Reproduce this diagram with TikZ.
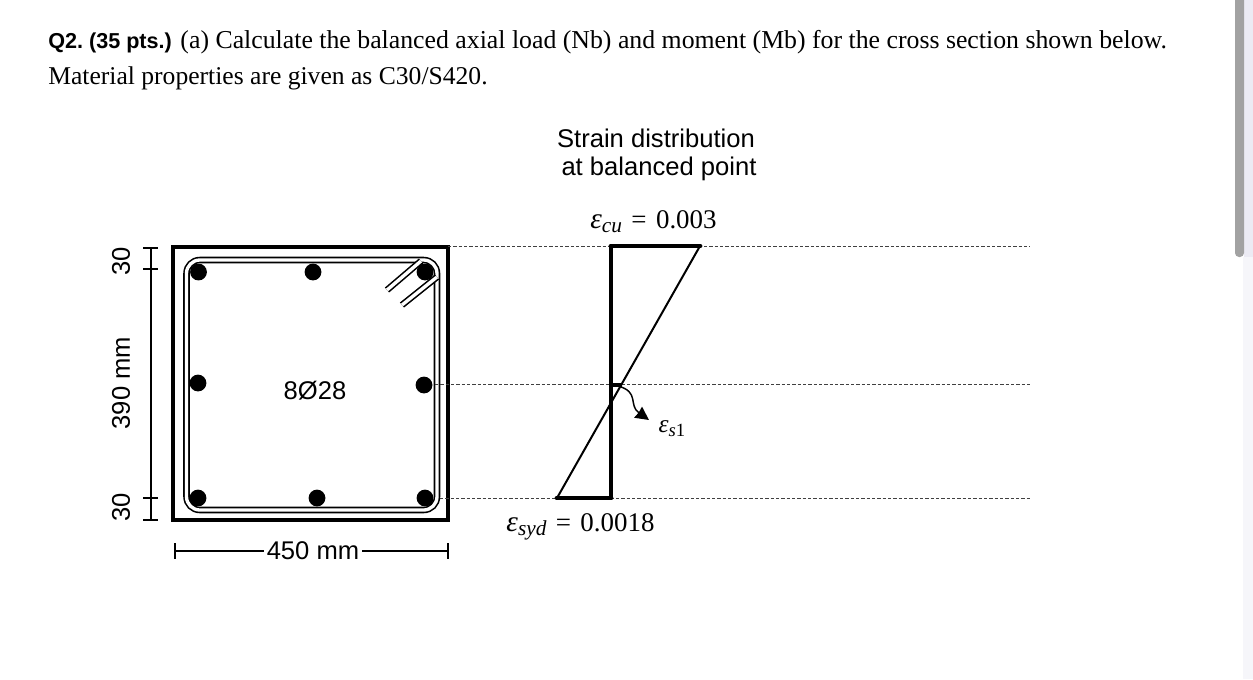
\RequirePackage{fix-cm}
\documentclass[tikz,border=0pt]{standalone}
\usepackage{amsmath}
\usepackage{fontspec}
\setmainfont{Liberation Serif}
\setsansfont{Liberation Sans}
\usepackage{tikz}
\usetikzlibrary{arrows.meta}
\definecolor{scrollgray}{HTML}{A2A2A2}
\definecolor{scrolllav}{HTML}{ECEBF4}
\newcommand{\strainsym}[3]{{\fontsize{#2}{#2}\selectfont\textit{ε}}\raisebox{-3pt}{\fontsize{#3}{#3}\selectfont\itshape #1}}
\tikzset{
    sanslabel/.style={inner sep=1pt, font=\sffamily\fontsize{19.2}{22}\selectfont},
    seriflabel/.style={inner sep=0pt, anchor=base west, font=\rmfamily\fontsize{19.2}{22}\selectfont},
    eqlabel/.style={inner sep=0pt, font=\rmfamily\fontsize{20.2}{22}\selectfont},
    dimline/.style={line width=0.8pt},
    guideline/.style={line width=0.6pt, black!75, dash pattern=on 2.4pt off 1.6pt},
    rebar/.style={line width=1.2pt, double, double distance=2.5pt},
    thickline/.style={line width=3.6pt},
    barfill/.style={circle, fill=black, inner sep=0pt, minimum size=12.6pt}
}
\begin{document}
\begin{tikzpicture}[x=0.75pt, y=-0.75pt]
        \useasboundingbox (0, 0) rectangle (1253, 679);
        % Scroll bar
        \fill [scrolllav] (1244, 0) rectangle (1253, 257);
        \fill [scrolllav!45] (1243, 257) rectangle (1253, 679);
        \fill [scrollgray, rounded corners=3pt] (1235, -10) rectangle (1244, 257);
        % Question
        \node [seriflabel] (line1) at (48, 48) {\sffamily\bfseries\fontsize{16.2}{22}\selectfont Q2.\ (35 pts.)\rmfamily\mdseries\fontsize{19.34}{22}\selectfont{} (a) Calculate the balanced axial load (Nb) and moment (Mb) for the cross section shown below.};
        \node [seriflabel] (line2) at (48, 84) {Material properties are given as C30/S420.};
        % Heading
        \node [sanslabel] (head1) at (656, 138) {Strain distribution};
        \node [sanslabel] (head2) at (659, 169) {at balanced point};
        % Section
        \draw [line width=3.4pt] (173, 247) rectangle (448, 520);
        \draw [rebar, rounded corners=10pt] (186.5, 260) rectangle (437, 510);
        % Hooks
        \draw [rebar] (421, 261) -- (387, 290);
        \draw [rebar] (437, 277) -- (402, 305);
        % Bars
        \node [barfill] (barNW) at (198.5, 272) {};
        \node [barfill] (barN) at (313, 272) {};
        \node [barfill] (barNE) at (425, 272) {};
        \node [barfill] (barW) at (198, 383) {};
        \node [barfill] (barE) at (424, 385) {};
        \node [barfill] (barSW) at (198, 498) {};
        \node [barfill] (barS) at (317, 498) {};
        \node [barfill] (barSE) at (425, 498) {};
        \node [sanslabel] (barlabel) at (315, 391) {8\O{}28};
        % Left dimension
        \coordinate (dimA) at (151, 248);
        \coordinate (dimB) at (151, 269);
        \coordinate (dimC) at (151, 498);
        \coordinate (dimD) at (151, 520);
        \draw [dimline] (dimA) -- (dimD);
        \draw [dimline] (143, 248) -- (158, 248);
        \draw [dimline] (143, 269) -- (158, 269);
        \draw [dimline] (143, 498) -- (158, 498);
        \draw [dimline] (143, 520) -- (158, 520);
        \node [sanslabel, rotate=90] (dimtop) at (121, 261) {30};
        \node [sanslabel, rotate=90] (dimmid) at (121, 383) {390 mm};
        \node [sanslabel, rotate=90] (dimbot) at (121, 507) {30};
        % Bottom dimension
        \coordinate (widthL) at (175, 551);
        \coordinate (widthR) at (448, 551);
        \node [sanslabel, inner sep=2pt] (widthlabel) at (313, 551) {450 mm};
        \draw [dimline] (widthL) -- (widthlabel);
        \draw [dimline] (widthlabel) -- (widthR);
        \draw [dimline] (175, 543) -- (175, 559);
        \draw [dimline] (448, 543) -- (448, 559);
        % Strain diagram
        \coordinate (strainT) at (611, 246);
        \coordinate (strainB) at (611, 498);
        \coordinate (strainM) at (611, 385);
        \coordinate (strainR) at (700, 246);
        \coordinate (strainL) at (557, 498);
        \coordinate (strainS) at (622, 385);
        \draw [guideline] (448, 246.5) -- (1030, 246.5);
        \draw [guideline] (435, 384.5) -- (1030, 384.5);
        \draw [guideline] (440, 498.5) -- (1030, 498.5);
        \draw [line width=1.5pt] (strainR) -- (strainL);
        \draw [thickline, line cap=round] (strainR) -- (strainT);
        \draw [thickline] (strainT) -- (strainB);
        \draw [thickline, line cap=round] (strainB) -- (strainL);
        \draw [thickline] (strainM) -- (strainS);
        % Labels
        \node [eqlabel] (ecu) at (653.5, 222) {\strainsym{cu}{22}{16}\hspace{2pt} = \hspace{2pt}0.003};
        \node [eqlabel] (esyd) at (580.5, 527) {\strainsym{syd}{22}{16}\hspace{2pt} = \hspace{2pt}0.0018};
        \node [inner sep=0pt] (es1) at (672, 429) {\strainsym{s}{19}{14}\raisebox{-3pt}{\fontsize{14}{14}\selectfont 1}};
        % Arrow
        \draw [-{Stealth[length=10pt, width=10pt, inset=0.5pt]}, line width=1.1pt] (618, 386) .. controls (640, 392) and (628, 405) .. (649, 420);
    \end{tikzpicture}
\end{document}
